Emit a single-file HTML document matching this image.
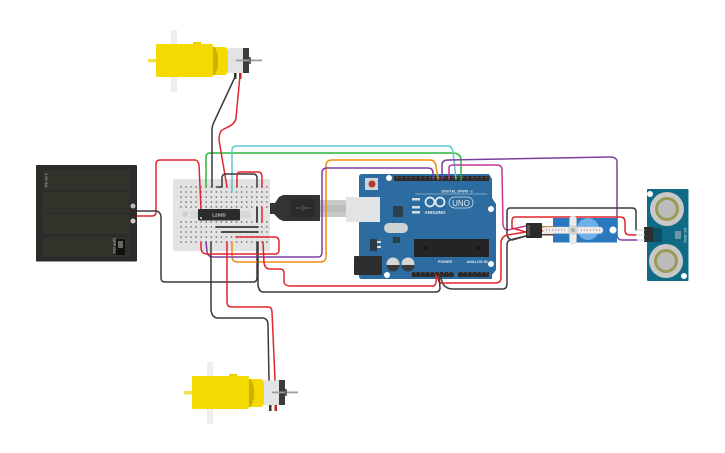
<!DOCTYPE html>
<html><head><meta charset="utf-8"><style>
html,body{margin:0;padding:0;background:#fff;width:725px;height:453px;overflow:hidden}
svg{display:block}
text{font-family:"Liberation Sans",sans-serif}
.w{fill:none;stroke-width:1.5;stroke-linecap:round;stroke-linejoin:round}
</style></head><body>
<svg width="725" height="453" viewBox="0 0 725 453" xmlns="http://www.w3.org/2000/svg">
<defs>
<pattern id="h" x="180.300" y="186.300" width="5.050" height="5" patternUnits="userSpaceOnUse"><rect x="0" y="0" width="1.400" height="1.400" fill="#666"/></pattern>
<pattern id="p" width="4.700" height="5" patternUnits="userSpaceOnUse"><rect width="4.700" height="5" fill="#2b2b2b"/><rect x="1.600" y="1.700" width="1.300" height="1.500" fill="#666"/></pattern>
<g id="motor">
<rect x="23" y="-14" width="6" height="62" fill="#eeeeee"/>
<rect x="0" y="15" width="8" height="3.500" fill="#f2df50"/>
<rect x="45" y="-2" width="8" height="4" fill="#e8cf00"/>
<rect x="8" y="0" width="57" height="33" rx="1.500" fill="#f4da00"/>
<rect x="65" y="3" width="15" height="28" rx="4" fill="#f4da00"/>
<path d="M65 3h2l3 8v12l-3 8h-2z" fill="#c9b200"/>
<rect x="80" y="4" width="15" height="25" fill="#e2e3e5"/>
<rect x="95" y="4" width="6" height="25" fill="#3c3c3c"/>
<rect x="88" y="15.500" width="26" height="1.800" fill="#9a9ea3"/>
<rect x="101" y="13" width="2" height="7" fill="#666"/>
</g>
</defs>
<rect width="725" height="453" fill="#fff"/>

<!-- battery -->
<rect x="36" y="165" width="101" height="96.500" rx="1" fill="#2b2b29"/>
<rect x="43" y="170" width="87" height="20" fill="#33322a"/>
<rect x="43" y="192" width="87" height="21" fill="#33322a"/>
<rect x="43" y="214" width="87" height="20" fill="#33322a"/>
<rect x="43" y="237" width="87" height="20" fill="#33322a"/>
<circle cx="133" cy="206" r="2.500" fill="#bbb"/><circle cx="133" cy="221" r="2.500" fill="#ccc"/>
<rect x="116" y="239" width="9" height="16" fill="#111"/><rect x="118" y="241" width="5" height="7" fill="#666"/>
<text transform="translate(45,173) rotate(90)" font-size="4" fill="#bbb">1.5V AA</text>
<text transform="translate(113,238) rotate(90)" font-size="4" fill="#ccc">OFF ON</text>

<!-- breadboard -->
<rect x="173" y="179" width="97" height="72" rx="2" fill="#e3e3e3"/>
<rect x="180" y="186" width="88" height="23" fill="url(#h)"/>
<rect x="180" y="221" width="88" height="23" fill="url(#h)"/>
<rect x="191" y="211" width="60" height="7" fill="#d8d8d8"/>
<circle cx="185" cy="214" r="3" fill="#d0d0d0"/>

<!-- usb cable -->
<rect x="318" y="200" width="28" height="17" fill="#c9c9c9"/>
<rect x="318" y="205" width="28" height="7" fill="#bdbdbd"/>
<path d="M270 203h5l4-6 4-2h37v26h-37l-4-2-5-5h-4v-11z" fill="#333"/>
<rect x="291" y="199" width="24" height="18" fill="#2a2a2a"/>
<path d="M296 208h15M302 205l3 3M302 211l3-3" stroke="#555" fill="none"/>

<!-- arduino -->
<path d="M362 174H489l3 5V198l4 6v66l-4 5v4H362q-3 0-3-3V177q0-3 3-3z" fill="#2c6ca0"/>
<rect x="346" y="197" width="34" height="25" fill="#e1e3e4"/>
<rect x="354" y="256" width="28" height="19" rx="1" fill="#2e2e2e"/>
<rect x="365" y="178" width="13" height="12" fill="#cfd3d6"/><circle cx="372" cy="184" r="3.500" fill="#b23a2c"/>
<circle cx="389" cy="178" r="3" fill="#fff"/><circle cx="491" cy="209" r="3" fill="#fff"/><circle cx="491" cy="264" r="3" fill="#fff"/><circle cx="387" cy="275" r="3" fill="#fff"/>
<rect x="394" y="176" width="95" height="5" fill="url(#p)"/>
<rect x="412" y="272" width="42" height="5" fill="url(#p)"/>
<rect x="458" y="272" width="31" height="5" fill="url(#p)"/>
<rect x="393" y="206" width="10" height="11" fill="#2c3f4c"/>
<rect x="384" y="223" width="24" height="10" rx="5" fill="#cfd2d3"/>
<rect x="393" y="237" width="7" height="6" fill="#2c3f4c"/>
<rect x="370" y="239" width="7" height="12" fill="#2c3a44"/><rect x="377" y="241" width="4" height="2" fill="#ddd"/><rect x="377" y="246" width="4" height="2" fill="#ddd"/>
<rect x="414" y="239" width="75" height="18" fill="#242424"/>
<circle cx="425" cy="248" r="1.500" fill="#111"/><circle cx="478" cy="248" r="1.500" fill="#111"/>
<circle cx="393" cy="264" r="6.500" fill="#d5d6d6"/><path d="M386.500 265a6.500 6.500 0 0 0 13 0z" fill="#3a3a3a"/>
<circle cx="408" cy="264" r="6.500" fill="#d5d6d6"/><path d="M401.500 265a6.500 6.500 0 0 0 13 0z" fill="#3a3a3a"/>
<rect x="412" y="198" width="8" height="2.500" fill="#d6dcdf"/><rect x="412" y="206" width="8" height="2.500" fill="#d6dcdf"/><rect x="412" y="211" width="8" height="2.500" fill="#d6dcdf"/>
<circle cx="430" cy="202" r="4.500" fill="none" stroke="#e8eef2" stroke-width="1.700"/><circle cx="440" cy="202" r="4.500" fill="none" stroke="#e8eef2" stroke-width="1.700"/>
<text x="435" y="214" font-size="4.500" font-weight="bold" fill="#e8eef2" text-anchor="middle">ARDUINO</text>
<rect x="449" y="197" width="24" height="11" rx="5.500" fill="none" stroke="#cfdbe3" stroke-width=".8"/>
<text x="461" y="206" font-size="8" fill="#e8eef2" text-anchor="middle">UNO</text>
<text x="457" y="192.500" font-size="3.800" font-weight="bold" fill="#dfe8ee" text-anchor="middle">DIGITAL (PWM ~)</text>
<path d="M415 194H487" stroke="#cfdbe3" stroke-width=".5"/>
<text x="445" y="263" font-size="3.800" font-weight="bold" fill="#dfe8ee" text-anchor="middle">POWER</text>
<text x="477" y="263" font-size="3.800" font-weight="bold" fill="#dfe8ee" text-anchor="middle">ANALOG IN</text>

<!-- motors -->
<use href="#motor" x="148" y="44"/>
<use href="#motor" x="184" y="376"/>
<rect x="234" y="73" width="2.500" height="6" fill="#333"/><rect x="239" y="73" width="2.500" height="6" fill="#b22"/>
<rect x="269" y="405" width="2.500" height="6" fill="#333"/><rect x="274.500" y="405" width="2.500" height="6" fill="#b22"/>

<!-- sensor -->
<rect x="647" y="189" width="41.500" height="92" rx="1" fill="#0f6a85"/>
<circle cx="650" cy="194" r="3" fill="#fff"/><circle cx="684" cy="276" r="3" fill="#fff"/>
<circle cx="667" cy="209" r="17" fill="#c8c8c8"/><circle cx="667" cy="209" r="12" fill="#9a9c55"/><circle cx="667" cy="209" r="9" fill="#bcbcbc"/>
<circle cx="666" cy="261" r="17" fill="#c8c8c8"/><circle cx="666" cy="261" r="12" fill="#9a9c55"/><circle cx="666" cy="261" r="9" fill="#bcbcbc"/>
<rect x="644" y="227" width="9" height="15" fill="#2e2e2e"/>
<rect x="653" y="228" width="9" height="14" fill="#0b4d63"/>
<rect x="675" y="231" width="6" height="8" fill="#6d98a8"/>
<text transform="translate(684,228) rotate(90)" font-size="3.500" fill="#d5e5ea">HC-SR04</text>

<!-- wires -->
<g class="w">
<path stroke="#e0262c" d="M137 216H152Q156 216 156 212V164Q156 160 160 160H195Q198 160 199 165L201 209"/>
<path stroke="#3a3a3a" d="M137 211H155Q161 211 161 218V278Q161 282 165 282H253Q257 282 257 278V242"/>
<path stroke="#2ab63c" d="M206 187V157Q206 153 210 153H452Q461 153 461 160V180"/>
<path stroke="#5cc8d6" d="M232 192V150Q232 146 236 146H448Q452 146 453 152L456 179"/>
<path stroke="#f08a12" d="M232 242V256Q232 262 238 262H320Q326 262 326 256V166Q326 160 332 160H430Q435 160 436 166L438 179"/>
<path stroke="#7b3f9d" d="M206 242L207 252Q208 257 213 257H318Q322 257 322 252V173Q322 168 327 168H428Q433 168 433 173V179"/>
<path stroke="#7b3f9d" d="M442 179V165Q442 160 448 160L610 157Q617 157 617 162V236Q618 240 622 240H637"/>
<path stroke="#c23a92" d="M449 179V168Q449 165 453 165H497Q502 165 502 170L503 225Q504 230 508 230L526 226"/>
<path stroke="#3a3a3a" d="M636 230V212Q636 208 632 208H510Q507 208 507 212V233Q507 239 512 240L526 236L510 240Q507 241 507 245V283Q507 289 503 289H453Q446 289 443 284L440 276"/>
<path stroke="#e0262c" d="M636 235H630Q625 235 625 230V222Q625 217 620 217H515Q512 217 512 221V228L526 232L507 235Q501 237 501 243V278Q501 283 495 283H445Q438 285 438 277"/>
<path stroke="#e0262c" d="M263 242L264 263Q265 269 270 269H280Q284 269 284 273V282Q285 286 290 286H433Q437 286 436 275"/>
<path stroke="#3a3a3a" d="M258 242V285Q259 292 263 292H435Q440 292 440 288L439 275"/>
<path stroke="#3a3a3a" d="M235 77L214 122Q212 126 212 130V187"/>
<path stroke="#3a3a3a" d="M211 242V310Q212 318 218 318H262Q268 318 268 325L269 380"/>
<path stroke="#e0262c" d="M240 75L236 118Q235 124 228 127L222 130Q219 133 219 140L227 187"/>
<path stroke="#e0262c" d="M227 242V302Q227 307 232 307H268Q272 307 272 312L275 380"/>
<path stroke="#3a3a3a" d="M217 187H222V178Q222 174 226 174H253Q257 174 257 178V187"/>
<path stroke="#e0262c" d="M237 187V176Q237 172 240 172H258Q262 172 262 177V187"/>
<path stroke="#3a3a3a" stroke-width="1.800" d="M257 207V222M216 227H258M222 232H258"/>
<path stroke="#e0262c" d="M262 207V222M236 237H275Q279 237 279 242V250Q279 254 275 254H207Q201 254 201 247V242"/>
</g>

<!-- IC -->
<rect x="198" y="209" width="42" height="11.500" rx="1" fill="#2b2b2b"/>
<circle cx="201" cy="218" r="1" fill="#ddd"/>
<text x="219" y="216.500" font-size="4.500" font-weight="bold" fill="#ccc" text-anchor="middle">L293D</text>

<!-- servo -->
<rect x="553" y="218" width="64" height="24.500" fill="#2a78bd"/>
<circle cx="588" cy="229" r="11" fill="#6fb0ea"/>
<circle cx="613" cy="230" r="3.500" fill="#fff"/>
<rect x="542" y="226" width="11" height="1.500" fill="#c9782c"/><rect x="542" y="230" width="11" height="1.500" fill="#c22"/><rect x="542" y="234" width="11" height="1.500" fill="#6b3f2a"/>
<rect x="543" y="227" width="60" height="6.500" rx="3" fill="#ececec" stroke="#ccc" stroke-width=".4"/>
<rect x="569.500" y="216" width="7" height="28" rx="3" fill="#ececec" stroke="#ccc" stroke-width=".4"/>
<circle cx="573" cy="230" r="5" fill="#d4d4d4"/><circle cx="573" cy="230" r="2" fill="#aaa"/>
<path d="M546 230H566M581 230H601" stroke="#a8705f" stroke-width="1" stroke-dasharray="1 2"/>

<!-- connector -->
<rect x="526" y="223" width="16" height="15" rx="1" fill="#2a2a2a"/>
<rect x="527" y="225" width="3" height="11" fill="#555"/>
<path d="M636 230H645M636 235H645M637 240H645" stroke="#ccc" stroke-width="1"/>
</svg>
</body></html>
